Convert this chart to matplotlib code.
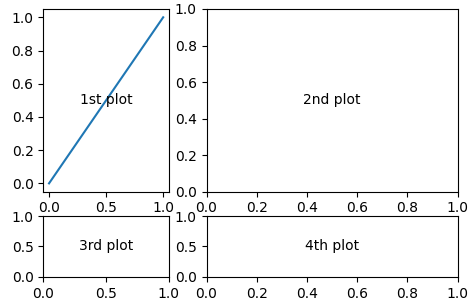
import matplotlib
matplotlib.use('Agg')
import matplotlib.pyplot as plt
from matplotlib.gridspec import GridSpec

# data for the only line in the figure
line_x = [0, 1]
line_y = [0, 1]
labels = ['1st plot', '2nd plot', '3rd plot', '4th plot']

fig = plt.figure(figsize=(4.74, 3.05), dpi=100)
gs = GridSpec(2, 2, figure=fig, width_ratios=[1, 2], height_ratios=[3, 1],
              left=0.0914, right=0.9656, top=0.9705, bottom=0.092,
              wspace=0.2, hspace=0.2)

ax1 = fig.add_subplot(gs[0, 0])
ax2 = fig.add_subplot(gs[0, 1])
ax3 = fig.add_subplot(gs[1, 0])
ax4 = fig.add_subplot(gs[1, 1])

ax1.plot(line_x, line_y)

for ax, label in zip([ax1, ax2, ax3, ax4], labels):
    ax.text(0.5, 0.5, label, ha='center', va='center', transform=ax.transAxes)

fig.savefig('out.png', dpi=100)
